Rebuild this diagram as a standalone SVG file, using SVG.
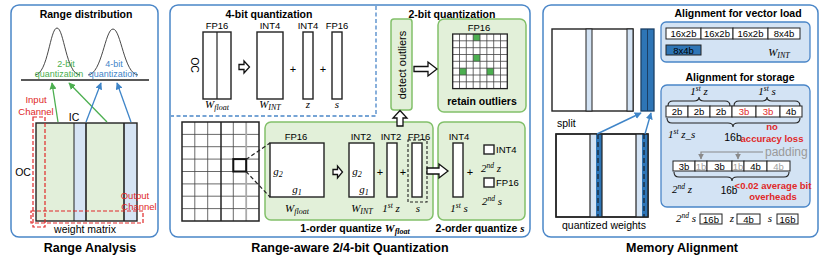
<svg xmlns="http://www.w3.org/2000/svg" width="831" height="258" viewBox="0 0 831 258">
<style>
text{font-family:"Liberation Sans",Arial,sans-serif;fill:#000}
.b{font-weight:bold}
.t{font-size:10.5px;font-weight:bold;text-anchor:middle}
.cap{font-size:12.5px;font-weight:bold;text-anchor:middle}
.l{font-size:9.5px;text-anchor:middle}
.m{font-family:"Liberation Serif","Times New Roman",serif;font-style:italic;font-size:11px;text-anchor:middle}
.ms{text-anchor:start}
.red{fill:#e02828}
.panel{fill:#fff;stroke:#4a86c8;stroke-width:1.5}
.gbox{fill:#e2f0d9;stroke:#82c06a;stroke-width:1.5}
.bbox{fill:#d3e3f4;stroke:#4a86c8;stroke-width:1.3}
.r{fill:#fff;stroke:#222;stroke-width:1.4}
.cell{fill:#fff;stroke:#222;stroke-width:1}
.ha{fill:#fff;stroke:#111;stroke-width:1.3;stroke-linejoin:miter}
.rd{fill:none;stroke:#e02828;stroke-width:1.2;stroke-dasharray:4 2}
.br{fill:none;stroke:#222;stroke-width:1.1}
.gl{stroke:#444;stroke-width:0.8}
</style>
<defs>
<marker id="ahG" viewBox="0 0 10 10" refX="9" refY="5" markerWidth="7" markerHeight="7" orient="auto" markerUnits="userSpaceOnUse"><path d="M0,0 L10,5 L0,10 z" fill="#4caf50"/></marker>
<marker id="ahB" viewBox="0 0 10 10" refX="9" refY="5" markerWidth="7" markerHeight="7" orient="auto" markerUnits="userSpaceOnUse"><path d="M0,0 L10,5 L0,10 z" fill="#3f85c8"/></marker>
<marker id="ahK" viewBox="0 0 10 10" refX="9" refY="5" markerWidth="6" markerHeight="6" orient="auto" markerUnits="userSpaceOnUse"><path d="M0,0 L10,5 L0,10 z" fill="#8a8a8a"/></marker>
</defs>

<!-- ============ Panel 1: Range Analysis ============ -->
<g id="panel-range">
<rect class="panel" x="11" y="5" width="147" height="232" rx="8"/>
<text class="t" x="86" y="18">Range distribution</text>
<path d="M35,75 C48,74 50,28 57,28 C64,28 66,74 80,75" fill="none" stroke="#333" stroke-width="0.9"/>
<path d="M88,75 C102,74 105,29 113,29 C121,29 124,74 138,75" fill="none" stroke="#333" stroke-width="0.9"/>
<line x1="21" y1="80" x2="149" y2="80" stroke="#222" stroke-width="1.4"/>
<text x="66" y="67" font-size="9" text-anchor="middle" style="fill:#4caf50">2-bit</text>
<text x="59" y="77" font-size="9" text-anchor="middle" style="fill:#4caf50">quantization</text>
<text x="114" y="67" font-size="9" text-anchor="middle" style="fill:#3f85c8">4-bit</text>
<text x="113" y="77" font-size="9" text-anchor="middle" style="fill:#3f85c8">quantization</text>
</g>
<g id="weight-matrix">
<rect x="36" y="123" width="38" height="98" fill="#e2efda"/>
<rect x="74" y="123" width="12" height="98" fill="#d6e4f4"/>
<rect x="86" y="123" width="38" height="98" fill="#e2efda"/>
<rect x="124" y="123" width="13" height="98" fill="#d6e4f4"/>
<rect x="36" y="123" width="101" height="98" fill="none" stroke="#222" stroke-width="1.4"/>
<line x1="74" y1="123" x2="74" y2="221" stroke="#222" stroke-width="1"/>
<line x1="86" y1="123" x2="86" y2="221" stroke="#222" stroke-width="1.6"/>
<line x1="124" y1="123" x2="124" y2="221" stroke="#222" stroke-width="1.6"/>
<rect class="rd" x="33" y="117" width="12" height="110"/>
<rect class="rd" x="31" y="211" width="112" height="12"/>
<text x="74" y="121" font-size="10.5" text-anchor="middle">IC</text>
<text class="red" x="36" y="103" font-size="9.5" text-anchor="middle">Input</text>
<text class="red" x="36" y="115" font-size="9.5" text-anchor="middle">Channel</text>
<text x="23" y="176" font-size="10.5" text-anchor="middle">OC</text>
<text class="red" x="135" y="199" font-size="9.5" text-anchor="middle">Output</text>
<text class="red" x="139" y="210" font-size="9.5" text-anchor="middle">Channel</text>
<text x="85" y="233" font-size="10.5" text-anchor="middle">weight matrix</text>
</g>
<g id="range-connectors">
<line x1="58" y1="122" x2="52" y2="83" stroke="#4caf50" stroke-width="1.3" marker-end="url(#ahG)"/>
<line x1="107" y1="122" x2="69" y2="83" stroke="#4caf50" stroke-width="1.3" marker-end="url(#ahG)"/>
<line x1="86" y1="122" x2="101" y2="83" stroke="#3f85c8" stroke-width="1.3" marker-end="url(#ahB)"/>
<line x1="131" y1="122" x2="117" y2="83" stroke="#3f85c8" stroke-width="1.3" marker-end="url(#ahB)"/>
</g>
<text class="cap" x="90" y="252">Range Analysis</text>

<!-- ============ Panel 2: Quantization ============ -->
<g id="panel-quant">
<rect class="panel" x="170" y="5" width="360" height="232" rx="8"/>
<path d="M376,6 L376,116 L171,116" fill="none" stroke="#4a86c8" stroke-width="1.3" stroke-dasharray="4 2.5"/>
<text class="t" x="269" y="18">4-bit quantization</text>
<text class="t" x="452" y="18">2-bit quantization</text>
</g>
<g id="q4-wfloat">
<rect class="r" x="203" y="32" width="28" height="67"/>
<line x1="217" y1="32" x2="217" y2="99" stroke="#222" stroke-width="1.2"/>
<text class="l" x="217" y="29">FP16</text>
<text x="194" y="65" font-size="10.5" text-anchor="middle" transform="rotate(90 194 65)" dy="3.5">OC</text>
<text class="m" x="217" y="108">W<tspan font-size="8" dy="2">float</tspan></text>
</g>
<g id="q4-wint">
<rect class="r" x="257" y="32" width="26" height="67"/>
<text class="l" x="270" y="29">INT4</text>
<text class="m" x="270" y="108">W<tspan font-size="8" dy="2">INT</tspan></text>
</g>
<g id="q4-z">
<text x="293" y="73" font-size="11" text-anchor="middle">+</text>
<rect class="r" x="303" y="32" width="10" height="67"/>
<text class="l" x="308" y="29">INT4</text>
<text class="m" x="308" y="108">z</text>
</g>
<g id="q4-s">
<text x="323" y="73" font-size="11" text-anchor="middle">+</text>
<rect class="r" x="332" y="32" width="10" height="67"/>
<text class="l" x="337" y="29">FP16</text>
<text class="m" x="337" y="108">s</text>
</g>
<g id="detect-outliers">
<rect class="gbox" x="391" y="19" width="21" height="91" rx="3"/>
<text x="401.5" y="65" font-size="11" text-anchor="middle" transform="rotate(-90 401.5 65)" dy="4">detect outliers</text>
</g>
<g id="retain-outliers">
<rect class="gbox" x="438" y="19" width="88" height="93" rx="6"/>
<text class="l" x="479" y="31">FP16</text>
<rect x="452.7" y="34" width="54.6" height="54.6" fill="#fff"/>
<rect x="473.2" y="34" width="6.83" height="6.83" fill="#4caf50"/>
<rect x="473.2" y="54.5" width="6.83" height="6.83" fill="#4caf50"/>
<rect x="459.5" y="68.15" width="6.83" height="6.83" fill="#4caf50"/>
<rect x="486.85" y="68.15" width="6.83" height="6.83" fill="#4caf50"/>
<path class="gl" d="M459.5,34V88.6M466.3,34V88.6M473.2,34V88.6M480,34V88.6M486.85,34V88.6M493.7,34V88.6M500.5,34V88.6M452.7,40.8H507.3M452.7,47.7H507.3M452.7,54.5H507.3M452.7,61.3H507.3M452.7,68.15H507.3M452.7,75H507.3M452.7,81.8H507.3"/>
<rect x="452.7" y="34" width="54.6" height="54.6" fill="none" stroke="#222" stroke-width="1.3"/>
<text class="b" x="482" y="105" font-size="10.5" text-anchor="middle">retain outliers</text>
</g>
<g id="big-grid">
<rect x="182" y="122" width="77" height="99" fill="#fff"/>
<path class="gl" d="M194.8,122V221M207.7,122V221M233.3,122V221M182,134.4H259M182,146.7H259M182,159.1H259M182,171.5H259M182,183.9H259M182,196.2H259M182,208.6H259"/>
<line x1="221" y1="122" x2="221" y2="221" stroke="#222" stroke-width="1.5"/>
<line x1="246.2" y1="122" x2="246.2" y2="221" stroke="#aaa" stroke-width="1.8"/>
<rect x="182" y="122" width="77" height="99" fill="none" stroke="#222" stroke-width="1.5"/>
<rect x="233.3" y="159.1" width="12.9" height="12.4" fill="none" stroke="#111" stroke-width="2"/>
</g>
<g id="order1">
<rect class="gbox" x="265" y="122" width="168" height="98" rx="6"/>
<text class="l" x="296" y="140">FP16</text>
<rect class="r" x="270" y="143" width="54" height="54"/>
<text class="m" x="278" y="175">g<tspan font-size="8" dy="2">2</tspan></text>
<text class="m" x="297" y="193">g<tspan font-size="8" dy="2">1</tspan></text>
<text class="m" x="297" y="212">W<tspan font-size="8" dy="2">float</tspan></text>
<rect class="r" x="349" y="143" width="25" height="54"/>
<text class="l" x="361" y="140">INT2</text>
<text class="m" x="357" y="175">g<tspan font-size="8" dy="2">2</tspan></text>
<text class="m" x="364" y="193">g<tspan font-size="8" dy="2">1</tspan></text>
<text class="m" x="362" y="212">W<tspan font-size="8" dy="2">INT</tspan></text>
<text x="380" y="176" font-size="11" text-anchor="middle">+</text>
<rect class="r" x="387" y="143" width="10" height="54"/>
<text class="l" x="391" y="140">INT2</text>
<text class="m" x="391" y="212">1<tspan font-size="7.5" dy="-4">st</tspan><tspan dy="4"> z</tspan></text>
<text x="403" y="176" font-size="11" text-anchor="middle">+</text>
<rect x="408" y="140" width="19" height="62" fill="none" stroke="#222" stroke-width="1.1" stroke-dasharray="3 2"/>
<rect class="r" x="412" y="143" width="10" height="54"/>
<text class="l" x="419" y="140">FP16</text>
<text class="m" x="418" y="212">s</text>
<text class="b" x="355" y="232" font-size="10.5" text-anchor="middle">1-order quantize <tspan font-family="Liberation Serif,serif" font-style="italic" font-size="11">W<tspan font-size="8" dy="2">float</tspan></tspan></text>
</g>
<g id="order2">
<rect class="gbox" x="438" y="122" width="87" height="98" rx="6"/>
<text class="l" x="459" y="140">INT4</text>
<rect class="r" x="453" y="143" width="10" height="54"/>
<text x="470" y="176" font-size="11" text-anchor="middle">+</text>
<text class="m" x="459" y="212">1<tspan font-size="7.5" dy="-4">st</tspan><tspan dy="4"> s</tspan></text>
<rect class="r" x="484" y="145" width="10" height="9"/>
<text x="496" y="153" font-size="9.5">INT4</text>
<text class="m" x="491" y="172">2<tspan font-size="7.5" dy="-4">nd</tspan><tspan dy="4"> z</tspan></text>
<rect class="r" x="484" y="178" width="10" height="9"/>
<text x="496" y="186" font-size="9.5">FP16</text>
<text class="m" x="492" y="205">2<tspan font-size="7.5" dy="-4">nd</tspan><tspan dy="4"> s</tspan></text>
<text class="b" x="480" y="232" font-size="10.5" text-anchor="middle">2-order quantize <tspan font-family="Liberation Serif,serif" font-style="italic" font-size="11">s</tspan></text>
</g>
<g id="quant-connectors">
<polygon class="ha" points="239,64.5 244,64.5 244,61 249.5,67 244,73 244,69.5 239,69.5"/>
<polygon class="ha" points="333,169.5 337.5,169.5 337.5,166 342.5,172 337.5,178 337.5,174.5 333,174.5"/>
<polygon class="ha" points="414,66.5 428,66.5 428,62 437,69 428,76 428,71.5 414,71.5"/>
<polygon class="ha" points="427,168 439,168 439,164 448,171 439,178 439,174 427,174"/>
<polygon class="ha" points="397,126 397,118 393,118 400,110.5 407,118 403,118 403,126"/>
<line x1="246" y1="159.5" x2="270" y2="143" stroke="#222" stroke-width="1.2" stroke-dasharray="4 2.5"/>
<line x1="246" y1="171.5" x2="270" y2="197" stroke="#222" stroke-width="1.2" stroke-dasharray="4 2.5"/>
</g>
<text class="cap" x="350" y="252">Range-aware 2/4-bit Quantization</text>

<!-- ============ Panel 3: Memory Alignment ============ -->
<g id="panel-mem">
<rect class="panel" x="543" y="5" width="275" height="232" rx="8"/>
</g>
<g id="split-matrix">
<rect x="552" y="29" width="81" height="82" fill="#fff" stroke="#222" stroke-width="1.4"/>
<rect x="586" y="29" width="6" height="82" fill="#d3e3f4" stroke="#222" stroke-width="1"/>
<rect x="627" y="29" width="6" height="82" fill="#d3e3f4" stroke="#222" stroke-width="1"/>
<rect x="641" y="29" width="13" height="82" fill="#2e75b6" stroke="#1b3f66" stroke-width="1.3"/>
<line x1="647.5" y1="29" x2="647.5" y2="111" stroke="#1b3f66" stroke-width="1"/>
<text x="557" y="127" font-size="10.5">split</text>
</g>
<g id="quantized-weights">
<rect x="556" y="134" width="92" height="83" fill="#fff" stroke="#222" stroke-width="1.4"/>
<rect x="590" y="134" width="6" height="83" fill="#d3e3f4"/>
<rect x="596" y="134" width="6" height="83" fill="#2e75b6"/>
<rect x="636" y="134" width="6" height="83" fill="#d3e3f4"/>
<rect x="642" y="134" width="6" height="83" fill="#2e75b6"/>
<line x1="590" y1="134" x2="590" y2="217" stroke="#222" stroke-width="1.2"/>
<line x1="602" y1="134" x2="602" y2="217" stroke="#222" stroke-width="1.2"/>
<line x1="636" y1="134" x2="636" y2="217" stroke="#222" stroke-width="1.2"/>
<line x1="598" y1="134" x2="598" y2="217" stroke="#111" stroke-width="1" stroke-dasharray="5 3"/>
<line x1="644" y1="134" x2="644" y2="217" stroke="#111" stroke-width="1" stroke-dasharray="5 3"/>
<rect x="556" y="134" width="92" height="83" fill="none" stroke="#222" stroke-width="1.4"/>
<text x="604" y="229" font-size="10.5" text-anchor="middle">quantized weights</text>
</g>
<g id="mem-connectors">
<line x1="597" y1="134" x2="641" y2="113" stroke="#3f85c8" stroke-width="1.4" marker-end="url(#ahB)"/>
<line x1="645" y1="134" x2="651" y2="113" stroke="#3f85c8" stroke-width="1.4" marker-end="url(#ahB)"/>
</g>
<g id="vector-load">
<text class="t" x="738" y="17">Alignment for vector load</text>
<rect class="bbox" x="661" y="22" width="149" height="40" rx="5"/>
<rect class="cell" x="666" y="28" width="35" height="11"/>
<rect class="cell" x="701" y="28" width="32" height="11"/>
<rect class="cell" x="733" y="28" width="35" height="11"/>
<rect class="cell" x="768" y="28" width="32" height="11"/>
<text class="l" x="683.5" y="37">16x2b</text>
<text class="l" x="717" y="37">16x2b</text>
<text class="l" x="750.5" y="37">16x2b</text>
<text class="l" x="784" y="37">8x4b</text>
<rect x="666" y="45" width="35" height="10" fill="#2e75b6" stroke="#222" stroke-width="1"/>
<text class="l" x="683.5" y="53.5">8x4b</text>
<text class="m" x="779" y="56">W<tspan font-size="8" dy="2">INT</tspan></text>
</g>
<g id="storage">
<text class="t" x="740" y="81">Alignment for storage</text>
<rect class="bbox" x="661" y="85" width="149" height="122" rx="6"/>
<text class="m" x="699" y="95">1<tspan font-size="7.5" dy="-4">st</tspan><tspan dy="4"> z</tspan></text>
<text class="m" x="767" y="95">1<tspan font-size="7.5" dy="-4">st</tspan><tspan dy="4"> s</tspan></text>
<path class="br" d="M668,106 Q668,101 673,101 L694,101 Q699,101 699,97 Q699,101 704,101 L725,101 Q730,101 730,106"/>
<path class="br" d="M734,106 Q734,101 739,101 L762,101 Q767,101 767,97 Q767,101 772,101 L795,101 Q800,101 800,106"/>
<rect class="cell" x="666" y="106" width="22" height="11"/>
<rect class="cell" x="688" y="106" width="22" height="11"/>
<rect class="cell" x="710" y="106" width="22" height="11"/>
<rect class="cell" x="732" y="106" width="24" height="11"/>
<rect class="cell" x="756" y="106" width="24" height="11"/>
<rect class="cell" x="780" y="106" width="22" height="11"/>
<text class="l" x="677" y="115">2b</text>
<text class="l" x="699" y="115">2b</text>
<text class="l" x="721" y="115">2b</text>
<text class="l red" x="744" y="115">3b</text>
<text class="l red" x="768" y="115">3b</text>
<text class="l" x="791" y="115">4b</text>
<path class="br" d="M667,118 Q667,123 672,123 L728,123 Q733,123 733,127 Q733,123 738,123 L795,123 Q800,123 800,118"/>
<text class="m ms" x="668" y="138">1<tspan font-size="7.5" dy="-4">st</tspan><tspan dy="4"> z_s</tspan></text>
<text x="733" y="141" font-size="10.5" text-anchor="middle">16b</text>
<text class="b red" x="772" y="130" font-size="9.5" text-anchor="middle">no</text>
<text class="b red" x="772" y="142" font-size="9.5" text-anchor="middle">accuracy loss</text>
<text x="765" y="156" font-size="12" style="fill:#9a9a9a">padding</text>
<polyline points="763,152 701,152 701,159" fill="none" stroke="#8a8a8a" stroke-width="1.2" marker-end="url(#ahK)"/>
<line x1="738" y1="152" x2="738" y2="159" stroke="#8a8a8a" stroke-width="1.2" marker-end="url(#ahK)"/>
<rect class="cell" x="673" y="161" width="22" height="10"/>
<rect class="cell" x="695" y="161" width="12" height="10"/>
<rect class="cell" x="707" y="161" width="25" height="10"/>
<rect class="cell" x="732" y="161" width="12" height="10"/>
<rect class="cell" x="744" y="161" width="23" height="10"/>
<rect class="cell" x="767" y="161" width="23" height="10"/>
<text class="l" x="684" y="169.5">3b</text>
<text class="l" x="701" y="169.5" style="fill:#a0a0a0">1b</text>
<text class="l" x="719.5" y="169.5">3b</text>
<text class="l" x="738" y="169.5" style="fill:#a0a0a0">1b</text>
<text class="l" x="755.5" y="169.5">4b</text>
<text class="l" x="778.5" y="169.5" style="fill:#a0a0a0">4b</text>
<path class="br" d="M674,172 Q674,177 679,177 L727,177 Q732,177 732,181 Q732,177 737,177 L784,177 Q789,177 789,172"/>
<text class="m" x="682" y="193">2<tspan font-size="7.5" dy="-4">nd</tspan><tspan dy="4"> z</tspan></text>
<text x="729" y="194" font-size="10" text-anchor="middle">16b</text>
<text class="b red" x="773" y="189" font-size="9.5" text-anchor="middle">&lt;0.02 average bit</text>
<text class="b red" x="773" y="200" font-size="9.5" text-anchor="middle">overheads</text>
</g>
<g id="second-order-sizes">
<text class="m" x="686" y="222">2<tspan font-size="7.5" dy="-4">nd</tspan><tspan dy="4"> s</tspan></text>
<rect class="cell" x="700" y="214" width="22" height="10"/>
<text class="l" x="711" y="222.5">16b</text>
<text class="m" x="732" y="222">z</text>
<rect class="cell" x="737" y="214" width="23" height="10"/>
<text class="l" x="748.5" y="222.5">4b</text>
<text class="m" x="770" y="222">s</text>
<rect class="cell" x="777" y="214" width="21" height="10"/>
<text class="l" x="787.5" y="222.5">16b</text>
</g>
<text class="cap" x="682" y="252">Memory Alignment</text>
</svg>
